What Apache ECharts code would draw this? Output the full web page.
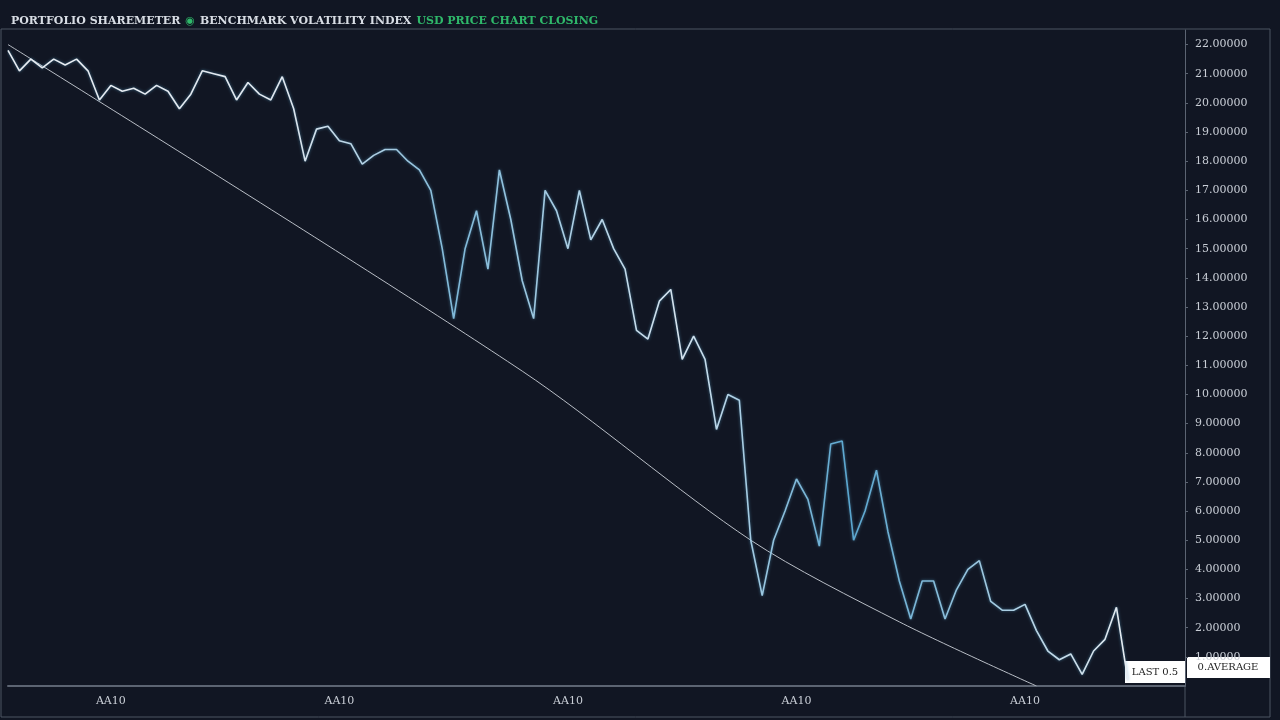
<!DOCTYPE html>
<html>
<head>
<meta charset="utf-8">
<script src="https://cdn.jsdelivr.net/npm/echarts@6/dist/echarts.min.js"></script>
<style>html,body{margin:0;background:#111623}#main{width:1280px;height:720px}</style>
</head>
<body>
<div id="main"></div>
<script>
var chartDom = document.getElementById("main");
var myChart = echarts.init(chartDom);

// price values, one per period
var prices = [21.8, 21.1, 21.5, 21.2, 21.5, 21.3, 21.5, 21.1, 20.1, 20.6, 20.4, 20.5, 20.3, 20.6, 20.4, 19.8, 20.3, 21.1, 21.0, 20.9,
  20.1, 20.7, 20.3, 20.1, 20.9, 19.8, 18.0, 19.1, 19.2, 18.7, 18.6, 17.9, 18.2, 18.4, 18.4, 18.0, 17.7, 17.0, 15.0, 12.6,
  15.0, 16.3, 14.3, 17.7, 16.0, 13.9, 12.6, 17.0, 16.3, 15.0, 17.0, 15.3, 16.0, 15.0, 14.3, 12.2, 11.9, 13.2, 13.6, 11.2,
  12.0, 11.2, 8.8, 10.0, 9.8, 5.0, 3.1, 5.0, 6.0, 7.1, 6.4, 4.8, 8.3, 8.4, 5.0, 6.0, 7.4, 5.3, 3.6, 2.3,
  3.6, 3.6, 2.3, 3.3, 4.0, 4.3, 2.9, 2.6, 2.6, 2.8, 1.9, 1.2, 0.9, 1.1, 0.4, 1.2, 1.6, 2.7, 0.2, null,
  null, null, null, null];
// trend line anchor points (index -> value)
var trendIdx = [0, 45, 65, 78, 90];
var trendVal = [22.0, 10.8, 5.0, 2.2, 0.0];
var xLabels = ["AA10", "AA10", "AA10", "AA10", "AA10"];
var xLabelIdx = [9, 29, 49, 69, 89];

var categories = prices.map(function (_, i) { return "P" + i; });
var trend = prices.map(function () { return null; });
trendIdx.forEach(function (k, j) { trend[k] = trendVal[j]; });

var option = {
  backgroundColor: "#111623",
  title: {
    left: 6, top: 7,
    text: "{a|PORTFOLIO SHAREMETER} {g|\u25C9} {a|BENCHMARK VOLATILITY INDEX} {g|USD PRICE CHART CLOSING}",
    textStyle: {
      rich: {
        a: { color: "#d8dde4", fontSize: 11, fontFamily: "DejaVu Serif" },
        g: { color: "#2fb86a", fontSize: 11, fontFamily: "DejaVu Serif" }
      }
    }
  },
  grid: { left: 8, right: 95, top: 30, bottom: 34 },
  xAxis: {
    type: "category",
    data: categories,
    boundaryGap: false,
    axisLine: { lineStyle: { color: "#5c6472", width: 2 } },
    axisTick: { show: false },
    axisLabel: {
      color: "#c9ced6", fontFamily: "DejaVu Serif", fontSize: 11, margin: 10,
      interval: function (i) { return xLabelIdx.indexOf(i) >= 0; },
      formatter: function (v, i) { var k = xLabelIdx.indexOf(i); return k >= 0 ? xLabels[k] : ""; }
    },
    splitLine: { show: false }
  },
  yAxis: {
    type: "value",
    position: "right",
    min: 0, max: 22.5, interval: 1,
    axisLine: { show: true, lineStyle: { color: "#5c6472" } },
    axisTick: { show: true, length: 3, lineStyle: { color: "#5c6472" } },
    axisLabel: {
      color: "#c9ced6", fontFamily: "DejaVu Serif", fontSize: 11, margin: 10,
      showMinLabel: false, showMaxLabel: false,
      formatter: function (v) { return v.toFixed(5); }
    },
    splitLine: { show: false }
  },
  series: [
    {
      name: "Trend", type: "line", data: trend, connectNulls: true, smooth: 0.3,
      symbol: "none", lineStyle: { color: "#b9bec6", width: 1 }, z: 1
    },
    {
      name: "Price", type: "line", data: prices, symbol: "none",
      lineStyle: {
        width: 1.6,
        color: { type: "linear", x: 0, y: 0, x2: 1, y2: 0, colorStops: [
          { offset: 0, color: "#e8ecf1" }, { offset: 0.25, color: "#dfe6ee" },
          { offset: 0.4, color: "#7fb8d8" }, { offset: 0.6, color: "#d6e3ee" },
          { offset: 0.75, color: "#5aa6cf" }, { offset: 1, color: "#e8ecf1" }] },
        shadowColor: "rgba(90,166,207,0.6)", shadowBlur: 3
      },
      z: 3
    }
  ],
  graphic: [
    { type: "rect", shape: { x: 1, y: 29, width: 1269, height: 688 }, style: { fill: "none", stroke: "#4c5462", lineWidth: 1 }, silent: true },
    { type: "line", shape: { x1: 1185, y1: 686, x2: 1185, y2: 717 }, style: { stroke: "#4c5462" } },
    { type: "rect", shape: { x: 1125, y: 661, width: 60, height: 22 }, style: { fill: "#ffffff" } },
    { type: "text", x: 1155, y: 672, style: { text: "LAST 0.5", fill: "#222", fontSize: 10, fontFamily: "DejaVu Serif", align: "center", verticalAlign: "middle" } },
    { type: "rect", shape: { x: 1187, y: 657, width: 83, height: 21 }, style: { fill: "#ffffff" } },
    { type: "text", x: 1228, y: 667, style: { text: "0.AVERAGE", fill: "#222", fontSize: 10, fontFamily: "DejaVu Serif", align: "center", verticalAlign: "middle" } }
  ]
};
option && myChart.setOption(option);
</script>
</body>
</html>
